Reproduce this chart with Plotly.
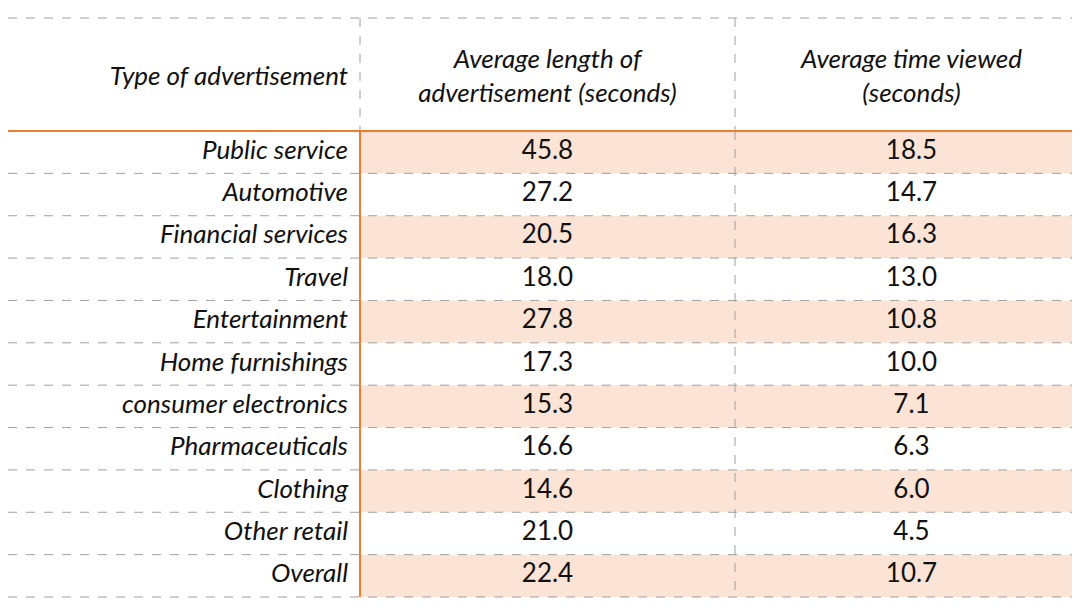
import plotly.graph_objects as go

categories = ["Public service", "Automotive", "Financial services", "Travel", "Entertainment",
              "Home furnishings", "consumer electronics", "Pharmaceuticals", "Clothing",
              "Other retail", "Overall"]
avg_length = [45.8, 27.2, 20.5, 18.0, 27.8, 17.3, 15.3, 16.6, 14.6, 21.0, 22.4]
avg_viewed = [18.5, 14.7, 16.3, 13.0, 10.8, 10.0, 7.1, 6.3, 6.0, 4.5, 10.7]
headers = ["Type of advertisement", "Average length of<br>advertisement (seconds)",
           "Average time viewed<br>(seconds)"]

W, H = 1080, 608
top, head_bot, bot = 10, 123, 589
n = len(categories)
row_h = (bot - head_bot) / n
xs = [0, 352, 727, 1080]
peach = "#fbe4d5"
FONT = "Lato"
fs = 26

row_y = [head_bot + (i + 0.5) * row_h for i in range(n)]
c2 = (xs[1] + xs[2]) / 2
c3 = (xs[2] + xs[3]) / 2

shapes = []
for i in range(0, n, 2):
    shapes.append(dict(type="rect", layer="below", x0=xs[1], x1=xs[3],
                       y0=head_bot + i * row_h, y1=head_bot + (i + 1) * row_h,
                       fillcolor=peach, line=dict(width=0)))
gray = dict(color="#a0a0a0", width=1, dash="dash")
shapes.append(dict(type="line", x0=0, x1=W, y0=top, y1=top, line=gray))
for i in range(1, n + 1):
    y = head_bot + i * row_h
    shapes.append(dict(type="line", x0=0, x1=W, y0=y, y1=y, line=gray))
for x in xs[1:3]:
    shapes.append(dict(type="line", x0=x, x1=x, y0=top, y1=head_bot, line=gray))
shapes.append(dict(type="line", x0=xs[2], x1=xs[2], y0=head_bot, y1=bot, line=gray))
orange = dict(color="#ed7d31", width=2)
shapes.append(dict(type="line", x0=0, x1=W, y0=head_bot, y1=head_bot, line=orange))
shapes.append(dict(type="line", x0=xs[1], x1=xs[1], y0=head_bot, y1=bot, line=orange))

font = dict(family=FONT, size=fs, color="#111")
fig = go.Figure()
fig.add_trace(go.Scatter(x=[xs[1] - 12] * n, y=row_y, mode="text",
                         text=[f"<i>{c}</i>" for c in categories],
                         textposition="middle left", textfont=font, hoverinfo="skip"))
fig.add_trace(go.Scatter(x=[c2] * n, y=row_y, mode="text",
                         text=[f"{v:.1f}" for v in avg_length],
                         textposition="middle center", textfont=font, hoverinfo="skip"))
fig.add_trace(go.Scatter(x=[c3] * n, y=row_y, mode="text",
                         text=[f"{v:.1f}" for v in avg_viewed],
                         textposition="middle center", textfont=font, hoverinfo="skip"))
hy = (top + head_bot) / 2 + 4
fig.add_trace(go.Scatter(x=[xs[1] - 12], y=[hy], mode="text", text=[f"<i>{headers[0]}</i>"],
                         textposition="middle left", textfont=font, hoverinfo="skip"))
fig.add_trace(go.Scatter(x=[c2, c3], y=[hy, hy], mode="text",
                         text=[f"<i>{h}</i>" for h in headers[1:]],
                         textposition="middle center", textfont=font, hoverinfo="skip"))

fig.update_layout(width=W, height=H, margin=dict(l=0, r=0, t=0, b=0),
                  paper_bgcolor="white", plot_bgcolor="white", showlegend=False,
                  shapes=shapes,
                  xaxis=dict(range=[0, W], visible=False, fixedrange=True),
                  yaxis=dict(range=[H, 0], visible=False, fixedrange=True))
fig.write_html("out.html")
